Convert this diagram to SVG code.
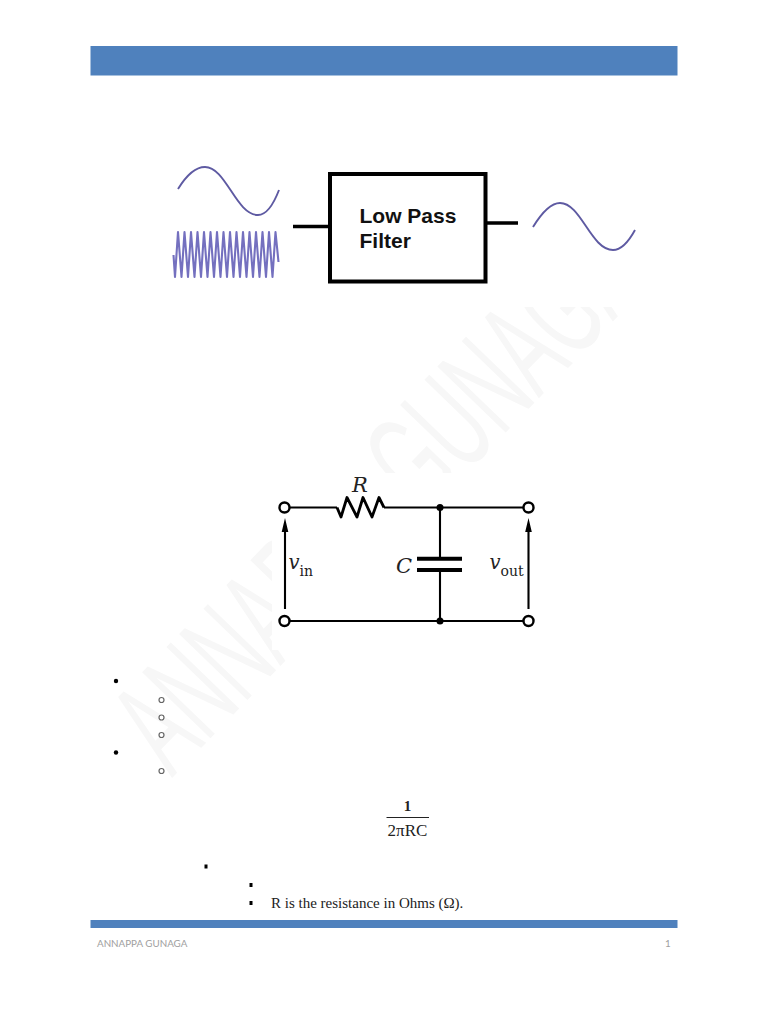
<svg xmlns="http://www.w3.org/2000/svg" width="768" height="1024" viewBox="0 0 768 1024">
<style>
.band{fill:#4f81bd}
.w{fill:none;stroke:#000;stroke-width:2.1;stroke-linejoin:round}
.res{fill:none;stroke:#000;stroke-width:2.8;stroke-linejoin:round}
.wave{fill:none;stroke:#5e5aa2;stroke-width:1.9;stroke-linejoin:round}
.hf{fill:none;stroke:#7470bf;stroke-width:2.1;stroke-linejoin:round}
.thick{fill:none;stroke:#000;stroke-width:3.5}
.term{fill:#fff;stroke:#000;stroke-width:2.4}
.sym{font-family:"DejaVu Serif",serif;font-style:italic;font-size:21px;fill:#222}
.v{font-size:19.5px}
.sub{font-family:"DejaVu Serif",serif;font-style:normal;font-size:14px}
.lbl{font-family:"Liberation Sans",Arial,sans-serif;font-weight:bold;font-size:21px;fill:#111}
.body{font-family:"Liberation Serif","Times New Roman",serif;fill:#222}
.foot{font-family:Lato,sans-serif;font-size:9.8px;fill:#a0a0a0}
.ob{fill:#fff;stroke:#666;stroke-width:1.2}
</style>
<rect width="768" height="1024" fill="#fff"/>
<text transform="translate(172 778) rotate(-46) scale(.535 1)" font-family="Liberation Sans,sans-serif" font-size="138" fill="#f7f7f7">ANNAPPA GUNAGA</text>
<rect x="160" y="150" width="490" height="157" fill="#fff"/>
<rect x="272" y="473" width="290" height="177" fill="#fff"/>
<rect class="band" x="90.5" y="46" width="587" height="29.5"/>
<g id="input-low">
<path class="wave" d="M178 189C186 176 195 167 205 167C226 167 236 215 258 215C267 215 274 203 279 190"/>
</g>
<g id="input-high">
<path class="hf" d="M173.500 255L175 277L178 232L181.500 277L184.500 232L188 277L191 232L194.500 277L197.500 232L201 277L204 232L207.500 277L210.500 232L214 277L217 232L220.500 277L223.500 232L227 277L230 232L233.500 277L236.500 232L240 277L243 232L246.500 277L249.500 232L253 277L256 232L259.500 277L262.500 232L266 277L269 232L272.500 277L275.500 232L278.500 262"/>
</g>
<g id="filter">
<rect x="330" y="174" width="155.500" height="107.500" fill="#fff" stroke="#000" stroke-width="4"/>
<text class="lbl" x="359.500" y="222.500">Low Pass</text>
<text class="lbl" x="359.500" y="247.500">Filter</text>
</g>
<g id="output">
<path class="wave" d="M533 227C541 214 550 203 560 203C581 203 591 250 613 250C622 250 629 241 635 230"/>
</g>
<g id="filter-connectors">
<path class="thick" d="M293 226.500H329M486 223H518"/>
</g>
<g id="circuit-connectors">
<path class="w" d="M290 507.500H337M384 507.500H523M290 621H523M440 507V558M440 570V621M285 609V529M528.500 609V529"/>
<path class="res" d="M337 507.500L341 517L347 497.500L357 517L363 497.500L372 517L379 497.500L384 507.500"/>
<path d="M285 518L281.700 532H288.300ZM528.500 518L525.200 532H531.800Z" fill="#000"/>
<path d="M417 558.700H462M417 570H462" fill="none" stroke="#000" stroke-width="4"/>
</g>
<g id="t1"><circle class="term" cx="284.500" cy="507.500" r="5"/></g>
<g id="t2"><circle class="term" cx="528.500" cy="507.500" r="5"/></g>
<g id="t3"><circle class="term" cx="284.500" cy="621" r="5"/></g>
<g id="t4"><circle class="term" cx="528.500" cy="621" r="5"/></g>
<g id="j1"><circle cx="440" cy="507.500" r="3.500"/></g>
<g id="j2"><circle cx="440" cy="621" r="3.500"/></g>
<text class="sym" x="352" y="491.500">R</text>
<text class="sym" x="396" y="572.500">C</text>
<text class="sym v" x="288.500" y="569">v<tspan class="sub" dy="7">in</tspan></text>
<text class="sym v" x="489.500" y="569">v<tspan class="sub" dy="7">out</tspan></text>
<g id="bullets">
<circle cx="116" cy="681" r="2.200"/><circle cx="116" cy="752.500" r="2.200"/>
<circle class="ob" cx="161.500" cy="700" r="2.500"/><circle class="ob" cx="161.500" cy="717.500" r="2.500"/><circle class="ob" cx="161.500" cy="735" r="2.500"/><circle class="ob" cx="161.500" cy="771" r="2.500"/>
<rect x="204.500" y="864.500" width="3" height="4"/><rect x="249.500" y="883" width="3" height="4"/><rect x="249.500" y="901" width="3" height="4"/>
</g>
<g id="formula">
<text class="body" x="407.500" y="810.500" font-size="15" font-weight="bold" text-anchor="middle">1</text>
<path d="M386.500 817.500H429" stroke="#222" stroke-width="1"/>
<text class="body" x="407.500" y="836" font-size="17" text-anchor="middle">2πRC</text>
</g>
<text class="body" x="271" y="908" font-size="15">R is the resistance in Ohms (Ω).</text>
<rect class="band" x="90.500" y="920" width="587" height="8"/>
<text class="foot" x="97" y="947">ANNAPPA GUNAGA</text>
<text class="foot" x="665" y="947">1</text>
</svg>
